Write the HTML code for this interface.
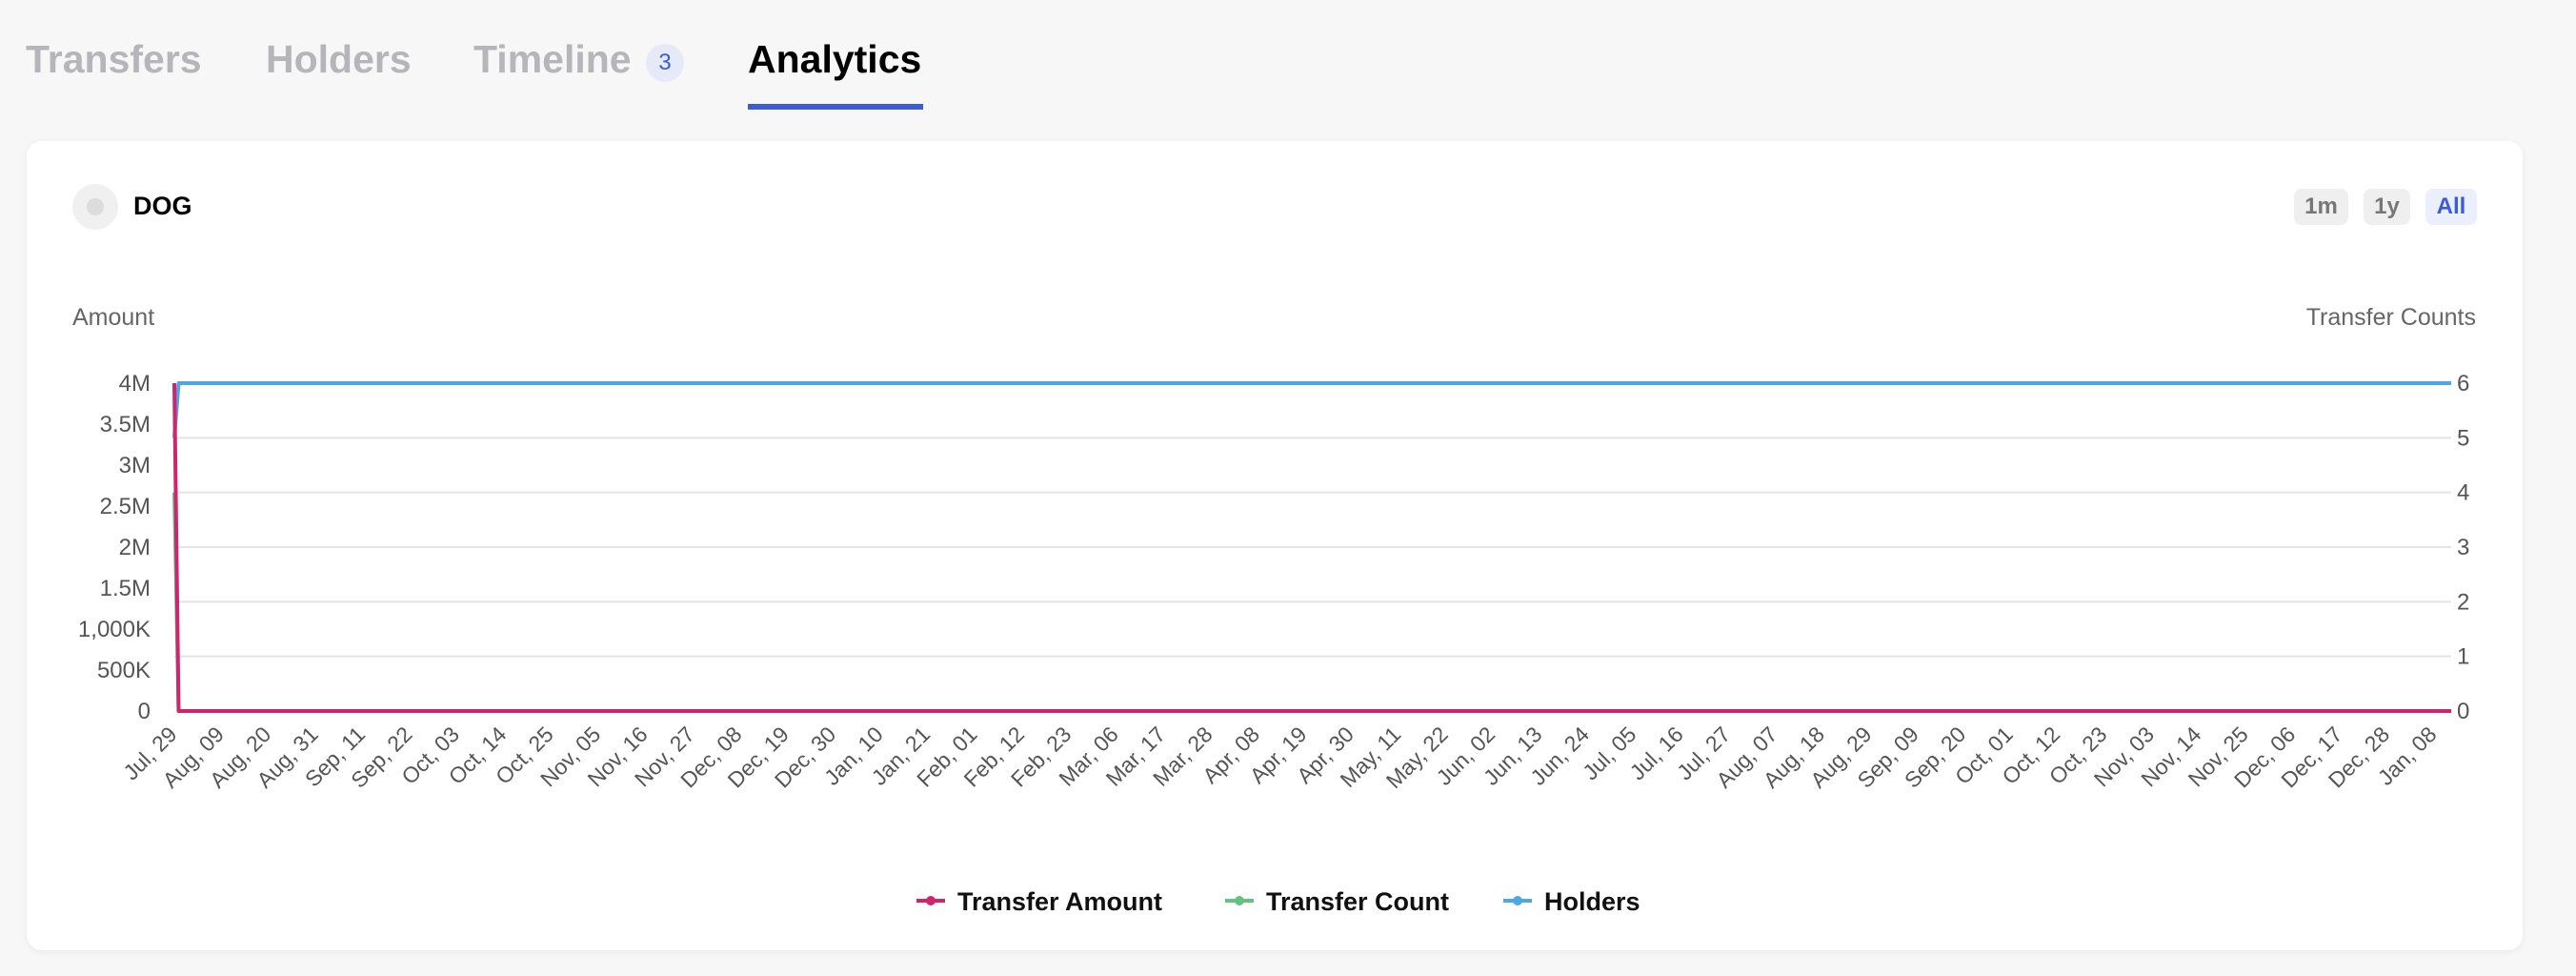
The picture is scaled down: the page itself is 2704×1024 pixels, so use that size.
<!DOCTYPE html>
<html><head><meta charset="utf-8"><style>
body{margin:0;width:2704px;height:1024px;background:#f7f7f8;font-family:"Liberation Sans",sans-serif;overflow:hidden;position:relative}
.tab{position:absolute;top:39px;font-size:41px;font-weight:bold;color:#b6b6ba}
.card{position:absolute;left:28px;top:148px;width:2620px;height:849px;background:#fff;border-radius:16px;box-shadow:0 2px 8px rgba(0,0,0,0.06)}
.btn{position:absolute;top:198px;height:38px;border-radius:8px;background:#efefef;color:#777;font-weight:bold;font-size:24px;line-height:38px;text-align:center}
</style></head><body>
<div class="tab" style="left:27px">Transfers</div>
<div class="tab" style="left:279px">Holders</div>
<div class="tab" style="left:497px">Timeline</div>
<div style="position:absolute;left:678px;top:46px;width:40px;height:40px;border-radius:20px;background:#e6e9f8;color:#3b5bdb;font-size:24px;line-height:40px;text-align:center">3</div>
<div class="tab" style="left:785px;color:#000">Analytics</div>
<div style="position:absolute;left:785px;top:109px;width:184px;height:6px;background:#3b5bdb"></div>
<div class="card"></div>
<div style="position:absolute;left:76px;top:193px;width:48px;height:48px;border-radius:24px;background:#f0f0f0"><div style="position:absolute;left:15px;top:15px;width:18px;height:18px;border-radius:9px;background:#dcdcdc"></div></div>
<div style="position:absolute;left:140px;top:201px;font-size:27px;font-weight:bold;color:#000">DOG</div>
<div class="btn" style="left:2408px;width:57px">1m</div>
<div class="btn" style="left:2481px;width:49px">1y</div>
<div class="btn" style="left:2546px;width:54px;background:#ebeefb;color:#3b5bdb">All</div>
<svg id="chart" width="2704" height="1024" style="position:absolute;left:0;top:0" font-family="Liberation Sans, sans-serif"></svg>
<script>
const dateLabels=["Jul, 29","Aug, 09","Aug, 20","Aug, 31","Sep, 11","Sep, 22","Oct, 03","Oct, 14","Oct, 25","Nov, 05","Nov, 16","Nov, 27","Dec, 08","Dec, 19","Dec, 30","Jan, 10","Jan, 21","Feb, 01","Feb, 12","Feb, 23","Mar, 06","Mar, 17","Mar, 28","Apr, 08","Apr, 19","Apr, 30","May, 11","May, 22","Jun, 02","Jun, 13","Jun, 24","Jul, 05","Jul, 16","Jul, 27","Aug, 07","Aug, 18","Aug, 29","Sep, 09","Sep, 20","Oct, 01","Oct, 12","Oct, 23","Nov, 03","Nov, 14","Nov, 25","Dec, 06","Dec, 17","Dec, 28","Jan, 08"];
const labelDays=dateLabels.map((d,i)=>i*11);
const pointDays=[0,1,532];
const transferAmount=[4000000,0,0];
const transferCount=[4,0,0];
const holders=[5,6,6];
const leftTicks=[0,500000,1000000,1500000,2000000,2500000,3000000,3500000,4000000];
const leftTickLabels=["0","500K","1,000K","1.5M","2M","2.5M","3M","3.5M","4M"];
const rightTicks=[0,1,2,3,4,5,6];
const X0=183,X1=2573,Y0=746,Y1=402,DMAX=532;
const x=d=>X0+(X1-X0)*d/DMAX;
const yL=v=>Y0-(Y0-Y1)*v/4000000;
const yR=v=>Y0-(Y0-Y1)*v/6;
const svg=document.getElementById('chart');
const NS='http://www.w3.org/2000/svg';
function mk(t,a){const e=document.createElementNS(NS,t);for(const k in a)e.setAttribute(k,a[k]);svg.appendChild(e);return e;}
rightTicks.forEach(v=>{
 if(v>0&&v<6){const g=mk('line',{x1:X0,x2:X1,y1:yR(v),y2:yR(v),stroke:'#e4e4e4','stroke-width':2});
 
 }
 const t=mk('text',{x:2579,y:yR(v)+8,'font-size':24,fill:'#555'});t.textContent=v;
 
 
});
leftTicks.forEach((v,i)=>{
 const t=mk('text',{x:158,y:yL(v)+8,'font-size':24,fill:'#555','text-anchor':'end'});t.textContent=leftTickLabels[i];
 
 
});
labelDays.forEach((d,i)=>{
 const t=mk('text',{'font-size':23,fill:'#555','text-anchor':'end',transform:`translate(${x(d)+4},772) rotate(-45)`});t.textContent=dateLabels[i];
 
 
});
let a=mk('text',{x:76,y:341,'font-size':25,fill:'#666'});a.textContent='Amount';


a=mk('text',{x:2599,y:341,'font-size':25,fill:'#666','text-anchor':'end'});a.textContent='Transfer Counts';


function line(vals,yf,col,name){
 const p=mk('polyline',{points:vals.map((v,i)=>x(pointDays[i])+','+yf(v)).join(' '),fill:'none',stroke:col,'stroke-width':4,'stroke-linejoin':'round'});
 
 
}
line(transferCount,yR,'#62c383','transfer-count-line');
line(holders,yR,'#4ea6e2','holders-line');
line(transferAmount,yL,'#d0246c','transfer-amount-line');
const legend=[["Transfer Amount","#d0246c",962],["Transfer Count","#62c383",1286],["Holders","#4ea6e2",1578]];
legend.forEach(([n,c,lx])=>{
 const l=mk('line',{x1:lx,x2:lx+30,y1:945,y2:945,stroke:c,'stroke-width':4});
 
 
 const ci=mk('circle',{cx:lx+15,cy:945,r:5,fill:c});
 
 
 const t=mk('text',{x:lx+43,y:955,'font-size':27,'font-weight':'bold',fill:'#111'});t.textContent=n;
 
 
});
</script>
</body></html>
